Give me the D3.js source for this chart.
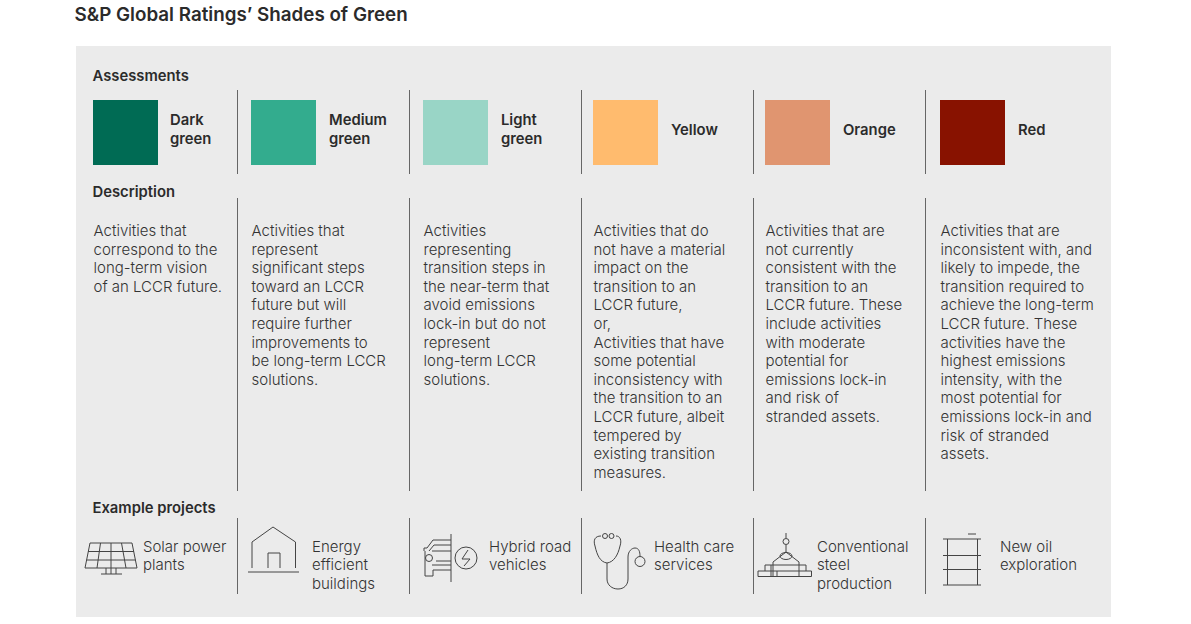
<!DOCTYPE html>
<html>
<head>
<meta charset="utf-8">
<script src="https://cdn.jsdelivr.net/npm/d3@7"></script>
<style>
  html, body { margin: 0; background: #fff; }
  text { font-family: Inter, "Noto Sans", sans-serif; }
</style>
</head>
<body>
<script>
var title = 'S&P Global Ratings\u2019 Shades of Green';
var sections = ['Assessments', 'Description', 'Example projects'];

var assessments = ['Dark green', 'Medium green', 'Light green', 'Yellow', 'Orange', 'Red'];
var assessmentLines = [['Dark', 'green'], ['Medium', 'green'], ['Light', 'green'], ['Yellow'], ['Orange'], ['Red']];
var shades = ['#006b54', '#33ac8e', '#99d5c6', '#ffbb6e', '#e09570', '#881200'];

var descriptions = [
  ['Activities that', 'correspond to the', 'long-term vision', 'of an LCCR future.'],
  ['Activities that', 'represent', 'significant steps', 'toward an LCCR', 'future but will', 'require further', 'improvements to', 'be long-term LCCR', 'solutions.'],
  ['Activities', 'representing', 'transition steps in', 'the near-term that', 'avoid emissions', 'lock-in but do not', 'represent', 'long-term LCCR', 'solutions.'],
  ['Activities that do', 'not have a material', 'impact on the', 'transition to an', 'LCCR future,', 'or,', 'Activities that have', 'some potential', 'inconsistency with', 'the transition to an', 'LCCR future, albeit', 'tempered by', 'existing transition', 'measures.'],
  ['Activities that are', 'not currently', 'consistent with the', 'transition to an', 'LCCR future. These', 'include activities', 'with moderate', 'potential for', 'emissions lock-in', 'and risk of', 'stranded assets.'],
  ['Activities that are', 'inconsistent with, and', 'likely to impede, the', 'transition required to', 'achieve the long-term', 'LCCR future. These', 'activities have the', 'highest emissions', 'intensity, with the', 'most potential for', 'emissions lock-in and', 'risk of stranded', 'assets.']
];

var projects = [
  ['Solar power', 'plants'],
  ['Energy', 'efficient', 'buildings'],
  ['Hybrid road', 'vehicles'],
  ['Health care', 'services'],
  ['Conventional', 'steel', 'production'],
  ['New oil', 'exploration']
];

var width = 1191, height = 624;
var ink = '#2b2b2b', bodyInk = '#333', lineInk = '#444';

var svg = d3.select('body').append('svg')
  .attr('width', width)
  .attr('height', height)
  .style('display', 'block');

// column positions are not evenly spaced in the original
var swatchX = d3.scaleOrdinal(assessments, [93, 251, 423, 593, 765, 940]);
var labelX = d3.scaleOrdinal(assessments, [170, 329, 501, 671, 843, 1018]);
var projectX = d3.scaleOrdinal(assessments, [143, 312, 489, 654, 817, 1000]);
var dividerX = d3.scaleOrdinal(assessments.slice(1), [237.5, 409.5, 581.5, 753.5, 925.5]);
var sectionY = d3.scaleOrdinal(sections, [80.5, 196.5, 512.5]);
var lineY = d3.scaleLinear().domain([0, 1]).range([236, 254.6]);
var projectY = d3.scaleLinear().domain([0, 1]).range([552, 570.4]);

svg.append('rect')
  .attr('x', 76).attr('y', 46)
  .attr('width', 1035).attr('height', 571)
  .attr('fill', '#ebebeb');

svg.append('text')
  .attr('x', 74.5).attr('y', 20.5)
  .attr('font-size', 18.8).attr('font-weight', 600)
  .attr('fill', ink)
  .text(title);

svg.selectAll('.section')
  .data(sections)
  .enter().append('text')
  .attr('class', 'section')
  .attr('x', 92.5)
  .attr('y', function (d) { return sectionY(d); })
  .attr('font-size', 14.8).attr('font-weight', 600)
  .attr('fill', ink)
  .text(function (d) { return d; });

// dividers, one set per row
[[90, 174], [198, 491], [518, 594]].forEach(function (row) {
  svg.selectAll(null)
    .data(assessments.slice(1))
    .enter().append('line')
    .attr('x1', function (d) { return dividerX(d); })
    .attr('x2', function (d) { return dividerX(d); })
    .attr('y1', row[0])
    .attr('y2', row[1])
    .attr('stroke', '#666')
    .attr('stroke-width', 1);
});

svg.selectAll('.swatch')
  .data(assessments)
  .enter().append('rect')
  .attr('class', 'swatch')
  .attr('x', function (d) { return swatchX(d); })
  .attr('y', 100)
  .attr('width', 65)
  .attr('height', 65)
  .attr('fill', function (d, i) { return shades[i]; });

var labels = svg.selectAll('.label')
  .data(assessments)
  .enter().append('text')
  .attr('class', 'label')
  .attr('font-size', 14.8).attr('font-weight', 600)
  .attr('fill', ink);

labels.selectAll('tspan')
  .data(function (d, i) {
    var lines = assessmentLines[i];
    return lines.map(function (t, j) {
      return { text: t, x: labelX(d), y: (lines.length === 1 ? 135 : 125 + j * 19) };
    });
  })
  .enter().append('tspan')
  .attr('x', function (d) { return d.x; })
  .attr('y', function (d) { return d.y; })
  .text(function (d) { return d.text; });

function addLines(cls, rows, xScale, yScale) {
  var blocks = svg.selectAll('.' + cls)
    .data(rows)
    .enter().append('text')
    .attr('class', cls)
    .attr('font-size', 15).attr('font-weight', 300)
    .attr('fill', bodyInk);

  blocks.selectAll('tspan')
    .data(function (d, i) {
      return d.map(function (t, j) {
        return { text: t, x: xScale(assessments[i]), y: yScale(j) };
      });
    })
    .enter().append('tspan')
    .attr('x', function (d) { return d.x; })
    .attr('y', function (d) { return d.y; })
    .text(function (d) { return d.text; });
}

addLines('desc', descriptions, function (k) { return swatchX(k) + 0.5; }, lineY);
addLines('proj', projects, projectX, projectY);

// line icons for the example projects
var icons = svg.append('g')
  .attr('fill', 'none')
  .attr('stroke', lineInk)
  .attr('stroke-width', 1);

var iconPaths = [
  // solar panel
  'M90,543H132L137,568H85Z M88,551.5H134 M86.5,560H135.5 M100.5,543L97,568 M121.5,543L126,568 M111,543V574 M101,574H122 M106,568V574 M116,568V574',
  // house
  'M252,568V542L273,527L295.5,542V568 M248,572H299 M268,568V553H280V568',
  // car and charge symbol
  'M451,534V582 M451,540H433L427,548H424V551 M451,545H434L429,551 M425,551V576H433V570H451 M432,565H451 M436,561H451 M432,551H451',
  // stethoscope
  'M601,536C595,536 593,540 595,546C597,555 600,562 607,563C614,562 618,555 620,546C622,540 620,536 616,536 M607,563V579C607,585 612,589 618,589C624,589 628,585 628,579V557C628,551 632,548 635,548C639,548 640,552 640,556',
  // steel bricks on hook
  'M786,533V538 M786,545V552 M773,576V562L786,552L799,562V576 M758,571H811.5V576.5H758Z M765,571V565H806V571 M771,565V576.5 M777,571V576.5',
  // oil barrel
  'M947.5,539V585 M977.5,539V585 M943,539H981 M943,555.5H981 M943,569.5H981 M943,585H981 M968,534H976'
];

icons.selectAll('path')
  .data(iconPaths)
  .enter().append('path')
  .attr('d', function (d) { return d; });

// round parts of the icons
var iconCircles = [
  [429, 558, 3.5], [466, 558, 11], [605, 536, 2.5], [611.5, 536, 2.5], [640, 561.5, 5], [786, 541.5, 3]
];
icons.selectAll('circle')
  .data(iconCircles)
  .enter().append('circle')
  .attr('cx', function (d) { return d[0]; })
  .attr('cy', function (d) { return d[1]; })
  .attr('r', function (d) { return d[2]; });

icons.append('path').attr('d', 'M468,550L462,559H470L464,566');
icons.append('ellipse').attr('cx', 786).attr('cy', 556).attr('rx', 6).attr('ry', 3.5);
</script>
</body>
</html>
